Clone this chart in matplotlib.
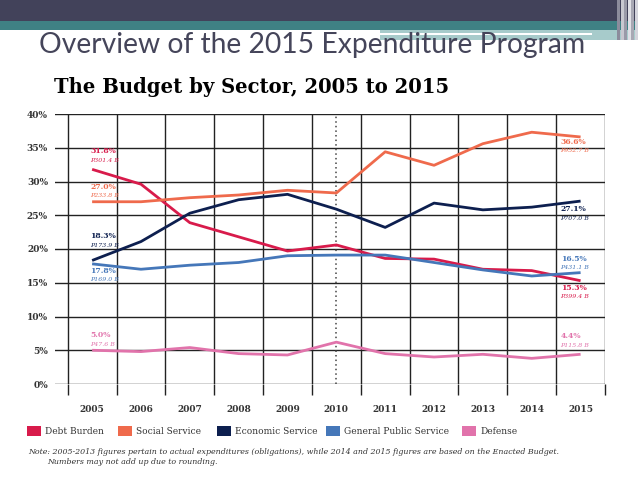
import matplotlib
matplotlib.use("Agg")
import matplotlib.pyplot as plt
from matplotlib.patches import Rectangle

W, H = 638, 478

years = [2005, 2006, 2007, 2008, 2009, 2010, 2011, 2012, 2013, 2014, 2015]

debt_burden = [31.8, 29.6, 23.9, 21.8, 19.7, 20.6, 18.6, 18.5, 17.0, 16.8, 15.3]
social_service = [27.0, 27.0, 27.6, 28.0, 28.7, 28.3, 34.4, 32.4, 35.6, 37.3, 36.6]
economic_service = [18.3, 21.1, 25.3, 27.3, 28.1, 25.9, 23.2, 26.8, 25.8, 26.2, 27.1]
general_public = [17.8, 17.0, 17.6, 18.0, 19.0, 19.1, 19.1, 18.0, 16.9, 16.0, 16.5]
defense = [5.0, 4.8, 5.4, 4.5, 4.3, 6.2, 4.5, 4.0, 4.4, 3.8, 4.4]

series_names = ["Debt Burden", "Social Service", "Economic Service",
                "General Public Service", "Defense"]
series_values = [debt_burden, social_service, economic_service, general_public, defense]
colors = ["#d81b4b", "#ef6a4c", "#0d1f4f", "#4577b9", "#e173ab"]

# amounts shown next to first / last point
start_amounts = ["P301.4 B", "P233.8 B", "P173.9 B", "P169.0 B", "P47.6 B"]
end_amounts = ["P399.4 B", "P952.7 B", "P707.0 B", "P431.1 B", "P115.8 B"]

y_ticks = [0, 5, 10, 15, 20, 25, 30, 35, 40]


def fig_rect(x, y, w, h, color):
    # x, y, w, h in pixels from top-left
    fig.patches.append(Rectangle((x / W, 1 - (y + h) / H), w / W, h / H,
                                 transform=fig.transFigure, color=color, lw=0, zorder=0))


fig = plt.figure(figsize=(W / 100, H / 100), dpi=100)
fig.patch.set_facecolor("white")

# slide header
fig_rect(0, 0, W, 21, "#42425a")
fig_rect(0, 21, W, 9, "#3f8184")
fig_rect(380, 30, W - 380, 10, "#a7cbcb")
fig_rect(0, 33, 592, 2, "white")
for sx, sc in [(617, "#8c8c9c"), (621, "#c8c8d0"), (624, "#9a9aa8"), (628, "#e0e0e6"),
               (631, "#a8a8b4"), (635, "#d4d4dc")]:
    fig_rect(sx, 0, 3, 40, sc)

fig.text(39 / W, 1 - 45 / H, "Overview of the 2015 Expenditure Program",
         fontsize=20.3, family="Lato", color="#45455a", va="center", ha="left")
fig.text(54 / W, 1 - 87 / H, "The Budget by Sector, 2005 to 2015",
         fontsize=14.1, family="DejaVu Serif", weight="bold", color="black",
         va="center", ha="left")

ax = fig.add_axes([55 / W, 1 - 384 / H, 550 / W, 270 / H])
ax.set_xlim(2004.24, 2015.5)
ax.set_ylim(0, 40)
for s in ax.spines.values():
    s.set_visible(False)

ax.set_yticks(y_ticks)
ax.set_yticklabels([f"{t}%" for t in y_ticks])
ax.set_xticks(years)
ax.set_xticklabels([str(y) for y in years])
ax.set_xticks([y + 0.5 for y in range(2004, 2016)], minor=True)
ax.grid(axis="y", which="major", color="#222222", lw=1.0)
ax.grid(axis="x", which="minor", color="#222222", lw=1.0)
ax.tick_params(axis="y", length=0, pad=5, labelsize=6.5, labelcolor="#333333")
ax.tick_params(axis="x", which="major", length=0, pad=15, labelsize=6.5, labelcolor="#333333")
ax.tick_params(axis="x", which="minor", direction="out", length=8, width=1.0, color="#222222")
for lab in ax.get_xticklabels() + ax.get_yticklabels():
    lab.set_family("DejaVu Serif")
    lab.set_weight("bold")

ax.axvline(2010, color="#444444", lw=1.1, ls=(0, (1, 2)), zorder=2)

for vals, c in zip(series_values, colors):
    ax.plot(years, vals, color=c, lw=2.0, zorder=3, solid_capstyle="butt")

# label offsets in pixels (pct, amount) below the first / last point (negative = above)
start_off = [(-18, -9), (-15, -6), (-24, -15), (7, 16), (-15, -6)]
end_off = [(7, 16), (5, 14), (8, 17), (-14, -5), (-18, -9)]

for i, c in enumerate(colors):
    v0 = series_values[i][0]
    v1 = series_values[i][-1]
    ax.annotate(f"{v0:.1f}%", (years[0], v0), xytext=(-2, -start_off[i][0]),
                textcoords="offset pixels", fontsize=5.5, family="DejaVu Serif",
                weight="bold", color=c, ha="left", va="center", zorder=4)
    ax.annotate(start_amounts[i], (years[0], v0), xytext=(-2, -start_off[i][1]),
                textcoords="offset pixels", fontsize=4.5, family="DejaVu Serif",
                style="italic", color=c, ha="left", va="center", zorder=4)
    ax.annotate(f"{v1:.1f}%", (years[-1], v1), xytext=(-20, -end_off[i][0]),
                textcoords="offset pixels", fontsize=5.5, family="DejaVu Serif",
                weight="bold", color=c, ha="left", va="center", zorder=4)
    ax.annotate(end_amounts[i], (years[-1], v1), xytext=(-20, -end_off[i][1]),
                textcoords="offset pixels", fontsize=4.5, family="DejaVu Serif",
                style="italic", color=c, ha="left", va="center", zorder=4)

# legend
legend_x = [27, 118, 217, 326, 462]
for lx, name, c in zip(legend_x, series_names, colors):
    fig_rect(lx, 426, 14, 10, c)
    fig.text((lx + 18) / W, 1 - 431 / H, name, fontsize=6.5, family="DejaVu Serif",
             color="#333333", va="center", ha="left")

fig.text(28 / W, 1 - 452 / H,
         "Note: 2005-2013 figures pertain to actual expenditures (obligations), while 2014 and 2015 figures are based on the Enacted Budget.",
         fontsize=5.65, family="DejaVu Serif", style="italic", color="#333333",
         va="center", ha="left")
fig.text(47 / W, 1 - 462 / H, "Numbers may not add up due to rounding.",
         fontsize=5.65, family="DejaVu Serif", style="italic", color="#333333",
         va="center", ha="left")

fig.savefig("out.png", dpi=100)
